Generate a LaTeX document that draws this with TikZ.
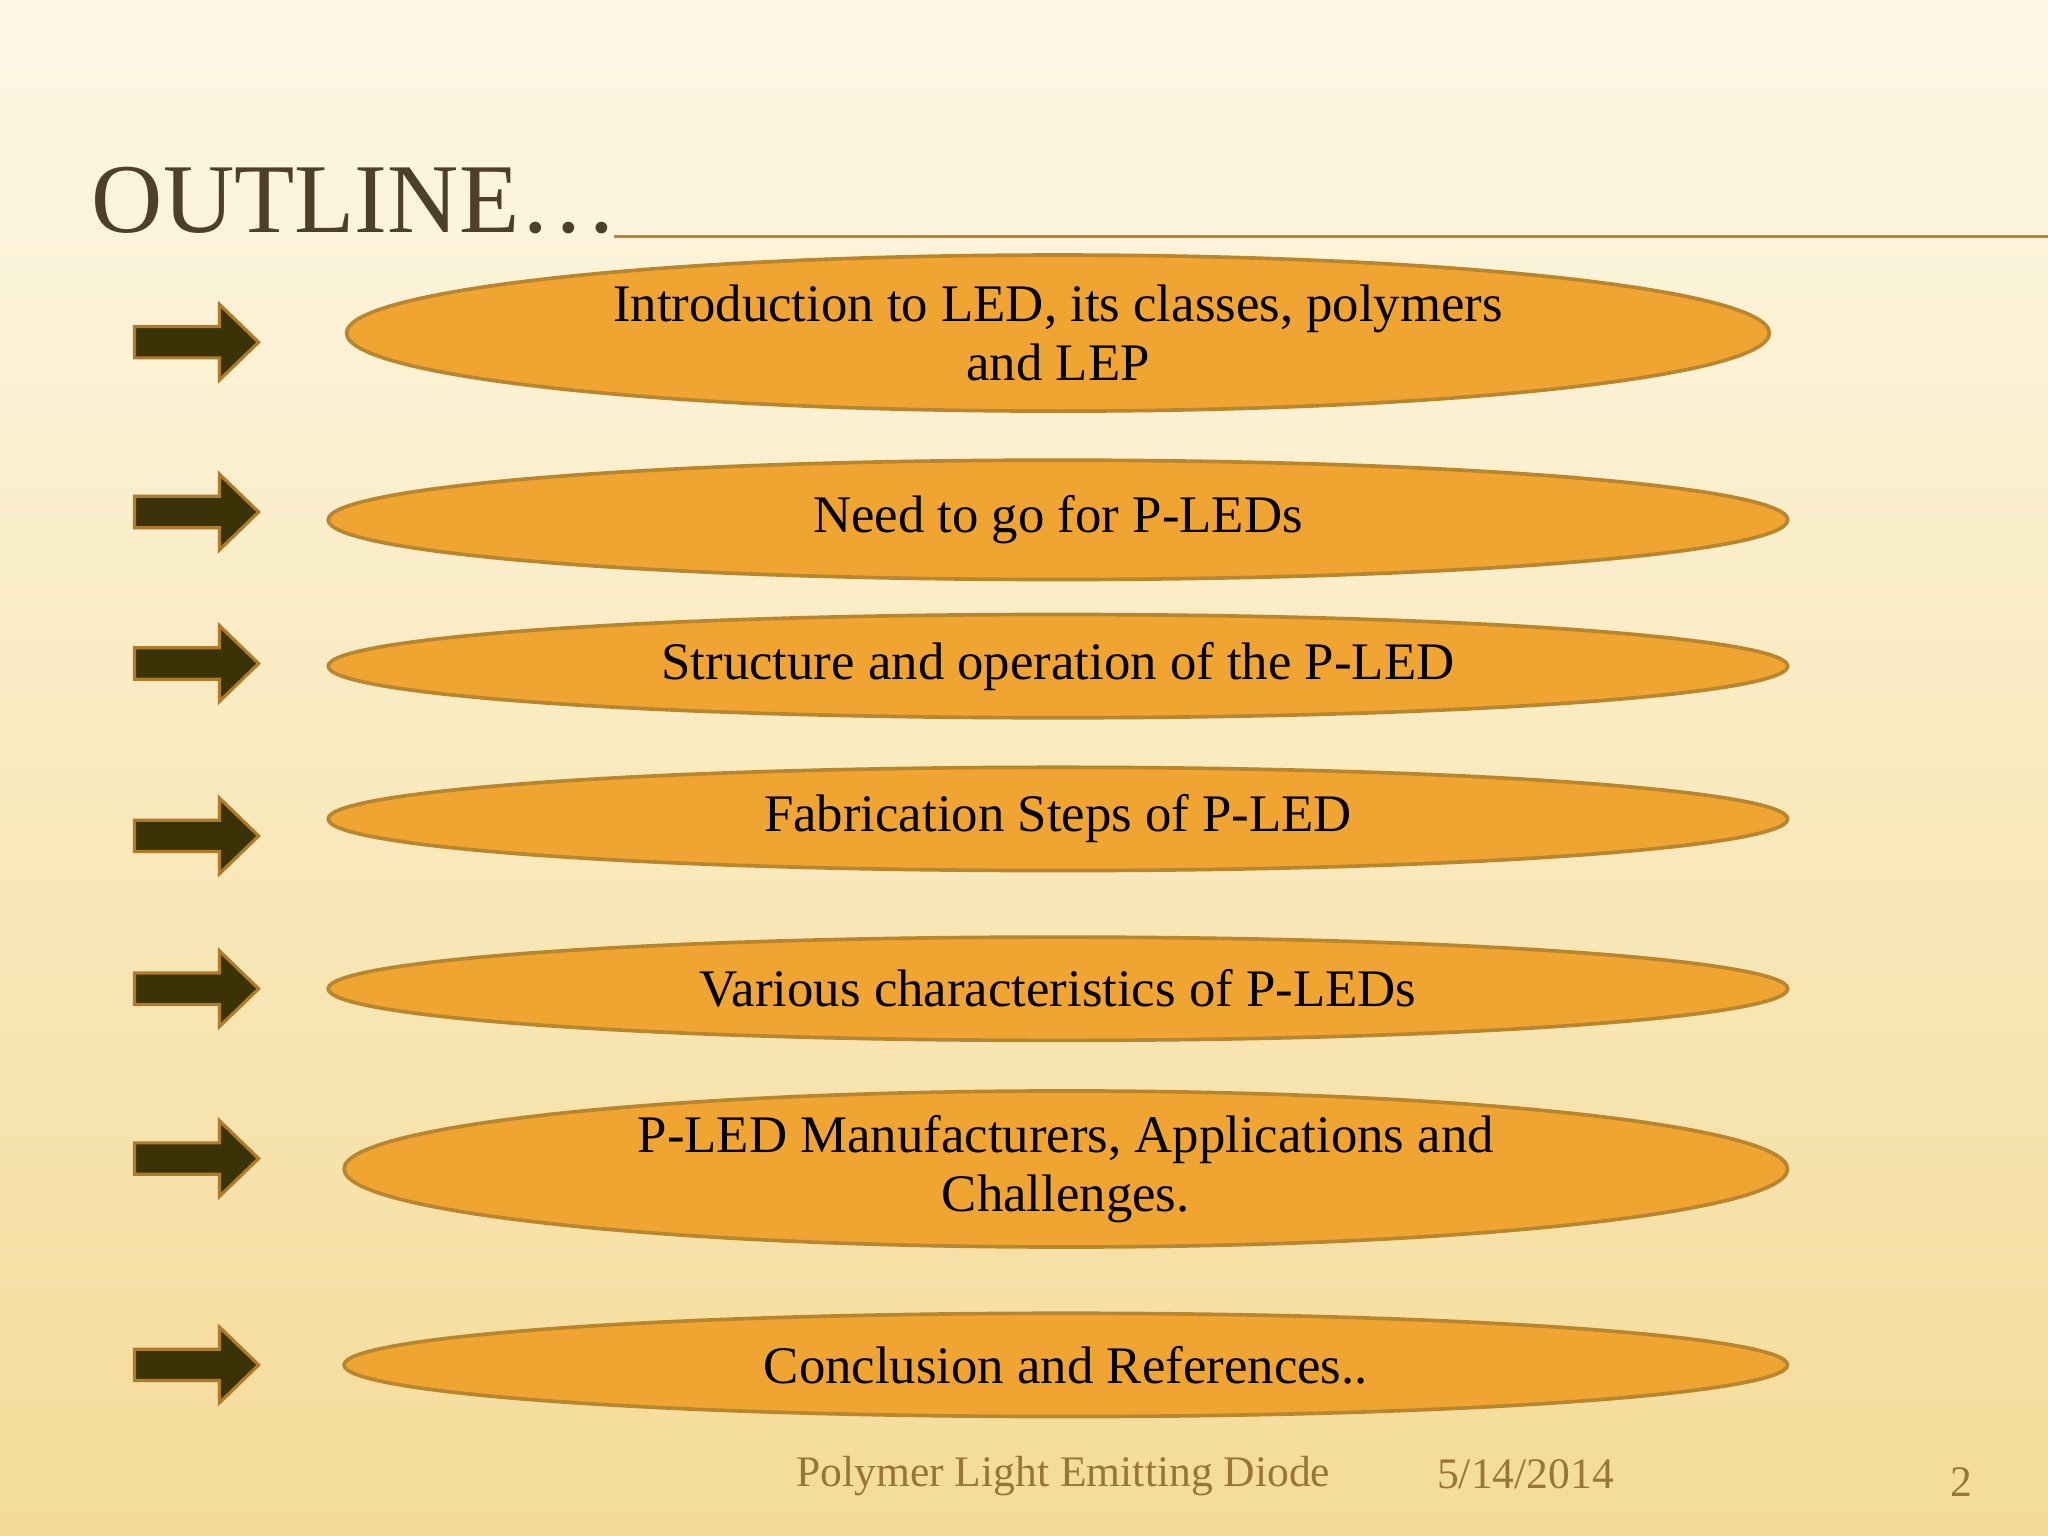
\documentclass[tikz,border=0pt]{standalone}
\usepackage{fontspec}
\setmainfont{Liberation Serif}
\usetikzlibrary{shapes.geometric}
\definecolor{bgtop}{HTML}{FDF8E6}
\definecolor{bgbot}{HTML}{F4DB98}
\definecolor{ovfill}{HTML}{F0A532}
\definecolor{ovline}{HTML}{B8862E}
\definecolor{arrfill}{HTML}{3A3308}
\definecolor{arrline}{HTML}{B07A28}
\definecolor{titlec}{HTML}{4E3E2C}
\definecolor{footc}{HTML}{9A7636}
\begin{document}
\begin{tikzpicture}[x=0.02cm,y=-0.02cm,
  topic/.style={ellipse,fill=ovfill,draw=ovline,line width=1.6pt,inner sep=0pt,align=center,font=\fontsize{23}{26}\selectfont},
  arrowshape/.style={fill=arrfill,draw=arrline,line width=1.4pt,line join=miter}]
\fill[top color=bgtop,bottom color=bgbot] (0,0) rectangle (1568,1176);
\useasboundingbox (0,0) rectangle (1568,1176);
\node[anchor=base west,text=titlec,font=\fontsize{43}{48}\selectfont,inner sep=0pt] (title) at (70,178) {OUTLINE…};
\coordinate (l1) at (470,181); \coordinate (l2) at (1568,181);
\draw[ovline,line width=1.2pt] (l1) -- (l2);
\node[topic,minimum width=620pt,minimum height=68pt] (t1) at (810,255) {Introduction to LED, its classes, polymers\\and LEP};
\node[topic,minimum width=636pt,minimum height=52pt] (t2) at (810,398) {Need to go for P-LEDs};
\node[topic,minimum width=636pt,minimum height=45pt] (t3) at (810,510) {Structure and operation of the P-LED};
\node[topic,minimum width=636pt,minimum height=45pt] (t4) at (810,627) {Fabrication Steps of P-LED};
\node[topic,minimum width=636pt,minimum height=45pt] (t5) at (810,757) {Various characteristics of P-LEDs};
\node[topic,minimum width=629pt,minimum height=68pt] (t6) at (816,895) {P-LED Manufacturers, Applications and\\Challenges.};
\node[topic,minimum width=629pt,minimum height=45pt] (t7) at (816,1045) {Conclusion and References..};
\foreach \y/\n in {262/a1,392/a2,508/a3,640/a4,757/a5,887/a6,1045/a7}{
  \coordinate (\n) at (103,\y-12);
  \draw[arrowshape] (\n) -- ++(65,0) -- ++(0,-17) -- ++(30,29) -- ++(-30,29) -- ++(0,-17) -- ++(-65,0) -- cycle;
}
\node[anchor=base,text=footc,font=\fontsize{19}{21}\selectfont] (f1) at (814,1138) {Polymer Light Emitting Diode};
\node[anchor=base,text=footc,font=\fontsize{19}{21}\selectfont] (f2) at (1168,1140) {5/14/2014};
\node[anchor=base,text=footc,font=\fontsize{19}{21}\selectfont] (f3) at (1502,1146) {2};
\end{tikzpicture}
\end{document}
